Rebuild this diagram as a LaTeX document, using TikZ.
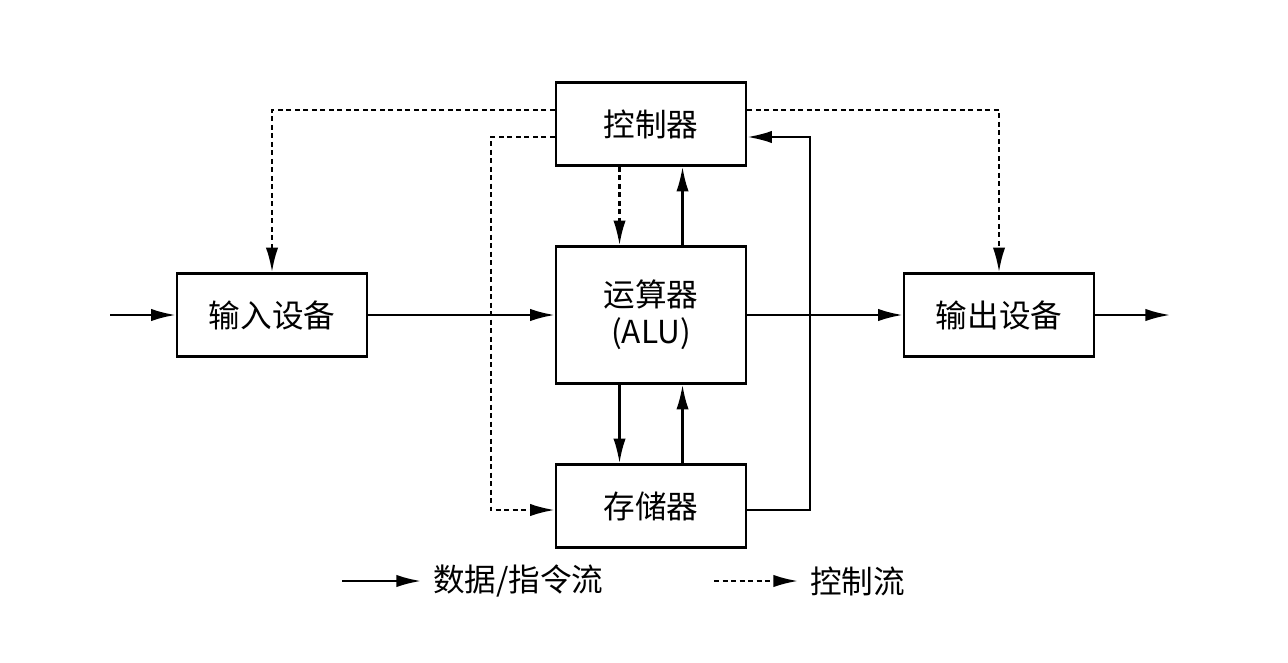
\documentclass[tikz,border=0pt]{standalone}
\usepackage{fontspec}
\setmainfont{Noto Sans CJK SC}
\usetikzlibrary{arrows.meta}
\begin{document}
\begin{tikzpicture}[
    unit/.style={draw, line width=1.5pt, minimum width=3.8cm, minimum height=1.66cm, align=center, font=\fontsize{18}{21}\selectfont},
    dataflow/.style={line width=1.3pt, -{Latex[length=14pt,width=7pt]}},
    ctrlflow/.style={line width=1.3pt, dash pattern=on 0.1cm off 0.07cm, -{Latex[length=14pt,width=7pt]}}
]
    \useasboundingbox (0,0) rectangle (25.76,13.24);

    %boxes
    \node[unit] (ctrl) at (13.02,10.76) {控制器};
    \node[unit, minimum height=2.74cm] (alu) at (13.02,6.94) {运算器\\(ALU)};
    \node[unit] (mem) at (13.02,3.12) {存储器};
    \node[unit] (input) at (5.44,6.94) {输入设备};
    \node[unit] (output) at (19.98,6.94) {输出设备};
    \coordinate (src) at (2.2,6.94);
    \coordinate (dst) at (23.4,6.94);

    %data flow
    \draw[dataflow] (src) -- (input.west);
    \draw[dataflow] (input.east) -- (alu.west);
    \draw[dataflow] (alu.east) -- (output.west);
    \draw[dataflow] (output.east) -- (dst);
    \draw[dataflow] ([xshift=0.63cm]alu.north) -- ([xshift=0.63cm]ctrl.south);
    \draw[dataflow] ([xshift=-0.63cm]alu.south) -- ([xshift=-0.63cm]mem.north);
    \draw[dataflow] ([xshift=0.63cm]mem.north) -- ([xshift=0.63cm]alu.south);
    \draw[dataflow] ([yshift=-0.08cm]mem.east) -- ++(1.26,0) |- ([yshift=-0.26cm]ctrl.east);

    %control flow (dashes)
    \draw[ctrlflow] ([xshift=-0.63cm]ctrl.south) -- ([xshift=-0.63cm]alu.north);
    \draw[ctrlflow] ([yshift=0.28cm]ctrl.west) -| (input.north);
    \draw[ctrlflow] ([yshift=0.28cm]ctrl.east) -| (output.north);
    \draw[ctrlflow] ([yshift=-0.26cm]ctrl.west) -- ++(-1.28,0) |- ([yshift=-0.08cm]mem.west);

    %legend
    \coordinate (ldata) at (6.84,1.62);
    \coordinate (lctrl) at (14.28,1.62);
    \draw[dataflow] (ldata) -- ++(1.58,0) node[right, xshift=0.1cm, font=\fontsize{18}{21}\selectfont] (ldatatext) {数据/指令流};
    \draw[ctrlflow] (lctrl) -- ++(1.68,0) node[right, xshift=0.1cm, font=\fontsize{18}{21}\selectfont] (lctrltext) {控制流};
\end{tikzpicture}
\end{document}
